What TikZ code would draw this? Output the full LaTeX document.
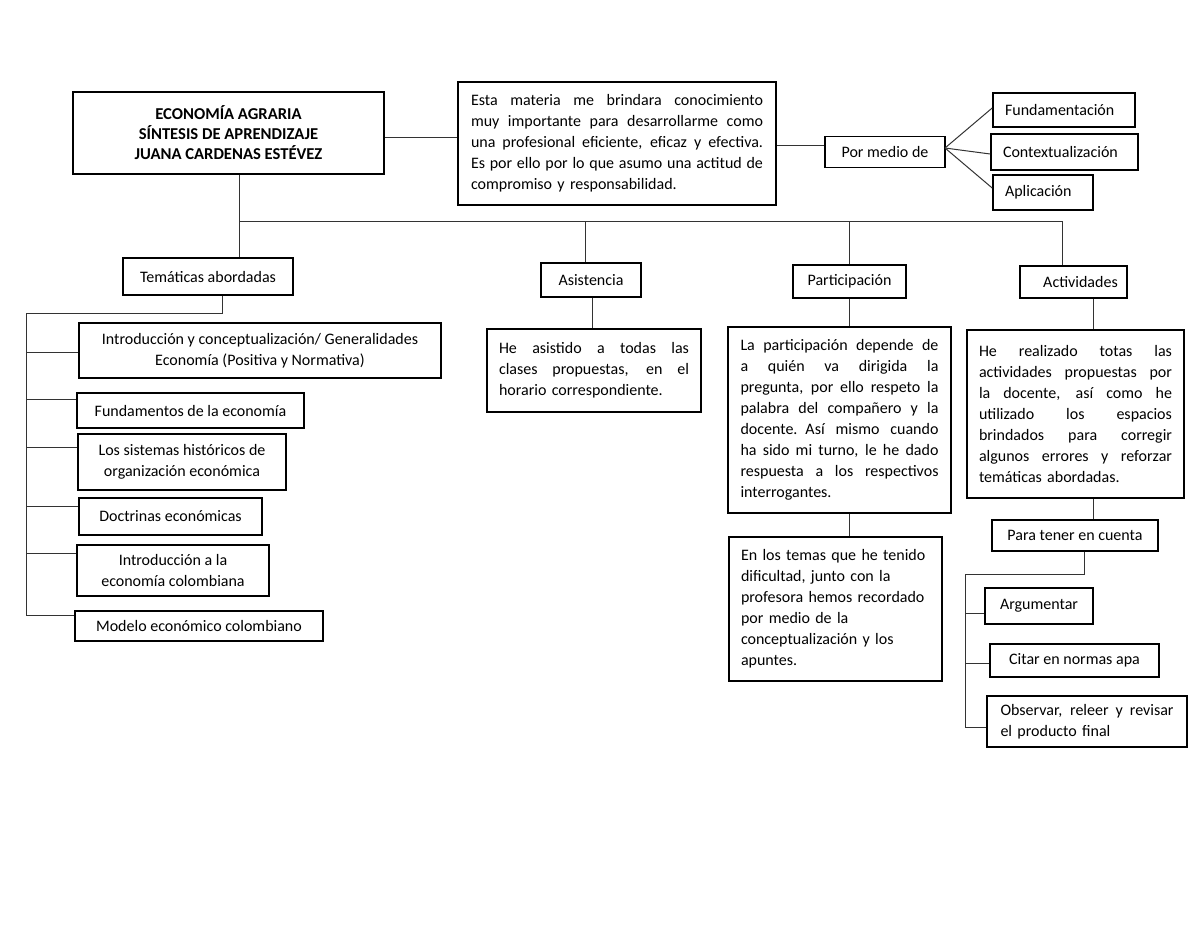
\documentclass[tikz,border=0pt]{standalone}
\usepackage{fontspec}
\setmainfont{Carlito}
\newcommand{\jl}[2]{\makebox[#1][s]{\spaceskip=\fontdimen2\font plus 1fil minus 0.08em\relax #2}}
\begin{document}
\begin{tikzpicture}[x=1pt,y=-1pt,
  box/.style={draw=black, line width=1.6pt, inner sep=0pt, align=center,
    font=\fontsize{16}{21}\selectfont},
  conn/.style={draw=black!80, line width=1pt}]
\fill[white] (0,0) rectangle (1200,927);
\useasboundingbox (0,0) rectangle (1200,927);

% top row
\node[box, minimum width=311pt, minimum height=82pt, font=\bfseries\fontsize{16.6}{20}\selectfont] (title) at (228.5,133)
  {ECONOMÍA AGRARIA\\SÍNTESIS DE APRENDIZAJE\\JUANA CARDENAS ESTÉVEZ};
\node[box, minimum width=318pt, minimum height=123pt, text width=292pt, align=left] (esta) at (617,143.5)
  {\jl{292pt}{Esta materia me brindara conocimiento}\\
   \jl{292pt}{muy importante para desarrollarme como}\\
   \jl{292pt}{una profesional eficiente, eficaz y efectiva.}\\
   \jl{292pt}{Es por ello por lo que asumo una actitud de}\\
   compromiso y responsabilidad.};
\node[box, minimum width=120pt, minimum height=31pt] (pormedio) at (885,152) {Por medio de};
\node[box, minimum width=142pt, minimum height=34pt, text width=118pt, align=left] (fund) at (1064,110) {Fundamentación};
\node[box, minimum width=147pt, minimum height=36pt, text width=123pt, align=left] (context) at (1064.5,152) {Contextualización};
\node[box, minimum width=100pt, minimum height=35pt, text width=76pt, align=left] (aplic) at (1043,192.5) {Aplicación};

% second row
\node[box, minimum width=170pt, minimum height=37pt] (tem) at (208,276.5) {Temáticas abordadas};
\node[box, minimum width=100pt, minimum height=34pt] (asis) at (591,280) {Asistencia};
\node[box, minimum width=113pt, minimum height=33pt] (part) at (849.5,281.5) {Participación};
\node[box, minimum width=107pt, minimum height=32pt] (act) at (1073.5,282) {\hspace*{14pt}Actividades};

% middle column texts
\node[box, minimum width=214pt, minimum height=83pt, text width=190pt, align=left] (asist) at (594,370.5)
  {\jl{190pt}{He asistido a todas las}\\
   \jl{190pt}{clases propuestas, en el}\\
   horario correspondiente.};
\node[box, minimum width=223pt, minimum height=186pt, text width=198pt, align=left] (lapart) at (839.5,420)
  {\jl{198pt}{La participación depende de}\\
   \jl{198pt}{a quién va dirigida la}\\
   \jl{198pt}{pregunta, por ello respeto la}\\
   \jl{198pt}{palabra del compañero y la}\\
   \jl{198pt}{docente. Así mismo cuando}\\
   \jl{198pt}{ha sido mi turno, le he dado}\\
   \jl{198pt}{respuesta a los respectivos}\\
   interrogantes.};
\node[box, minimum width=213pt, minimum height=144pt, text width=189pt, align=left] (enlos) at (835.5,609)
  {En los temas que he tenido\\
   dificultad, junto con la\\
   profesora hemos recordado\\
   por medio de la\\
   conceptualización y los\\
   apuntes.};

% right column
\node[box, minimum width=217pt, minimum height=168pt, text width=193pt, align=left] (real) at (1075.5,414)
  {\jl{193pt}{He realizado totas las}\\
   \jl{193pt}{actividades propuestas por}\\
   \jl{193pt}{la docente, así como he}\\
   \jl{193pt}{utilizado los espacios}\\
   \jl{193pt}{brindados para corregir}\\
   \jl{193pt}{algunos errores y reforzar}\\
   temáticas abordadas.};
\node[box, minimum width=166pt, minimum height=31pt] (para) at (1075,535.5) {Para tener en cuenta};
\node[box, minimum width=108pt, minimum height=36pt] (arg) at (1039,606) {Argumentar};
\node[box, minimum width=169pt, minimum height=33pt] (citar) at (1074.5,660.5) {Citar en normas apa};
\node[box, minimum width=200pt, minimum height=51pt, text width=173pt, align=left] (obs) at (1087,721.5)
  {\jl{173pt}{Observar, releer y revisar}\\ el producto final};

% left column
\node[box, minimum width=362pt, minimum height=55pt] (l1) at (260,350.5)
  {Introducción y conceptualización/ Generalidades\\ Economía (Positiva y Normativa)};
\node[box, minimum width=227pt, minimum height=35pt] (l2) at (190.5,410.5) {Fundamentos de la economía};
\node[box, minimum width=208pt, minimum height=56pt] (l3) at (182,462) {Los sistemas históricos de\\ organización económica};
\node[box, minimum width=183pt, minimum height=37pt] (l4) at (170.5,516.5) {Doctrinas económicas};
\node[box, minimum width=192pt, minimum height=51pt] (l5) at (173,570.5) {Introducción a la\\ economía colombiana};
\node[box, minimum width=248pt, minimum height=30pt] (l6) at (199,626) {Modelo económico colombiano};

% junction coordinates
\coordinate (busL) at (239,221);
\coordinate (busR) at (1062,221);
\coordinate (fan) at (945,148);
\coordinate (ltop) at (222,313);
\coordinate (lcorner) at (26,313);
\coordinate (lend) at (26,615);
\coordinate (rtop) at (1084,574);
\coordinate (rcorner) at (965,574);
\coordinate (rend) at (965,727);

% connectors top
\draw[conn] (title.east |- 0,137) -- (esta.west |- 0,137);
\draw[conn] (esta.east |- 0,145) -- (pormedio.west |- 0,145);
\draw[conn] (fan) -- (fund.west |- 0,108);
\draw[conn] (fan) -- (context.west |- 0,154);
\draw[conn] (fan) -- (aplic.west |- 0,188);
\draw[conn] (title.south -| busL) -- (tem.north -| busL);
\draw[conn] (busL) -- (busR) -- (act.north -| busR);
\draw[conn] (busL -| 585,0) -- (asis.north -| 585,0);
\draw[conn] (busL -| part.north) -- (part.north);

% connectors middle
\draw[conn] (asis.south -| 592,0) -- (asist.north -| 592,0);
\draw[conn] (part.south -| 849,0) -- (lapart.north -| 849,0);
\draw[conn] (lapart.south -| 849,0) -- (enlos.north -| 849,0);

% connectors right
\draw[conn] (act.south -| 1093,0) -- (real.north -| 1093,0);
\draw[conn] (real.south -| 1093,0) -- (para.north -| 1093,0);
\draw[conn] (para.south -| rtop) -- (rtop) -- (rcorner) -- (rend);
\draw[conn] (rcorner |- 0,613) -- (arg.west |- 0,613);
\draw[conn] (rcorner |- 0,663) -- (citar.west |- 0,663);
\draw[conn] (rend) -- (obs.west |- rend);

% connectors left
\draw[conn] (tem.south -| ltop) -- (ltop) -- (lcorner) -- (lend);
\draw[conn] (lcorner |- 0,352) -- (l1.west |- 0,352);
\draw[conn] (lcorner |- 0,399) -- (l2.west |- 0,399);
\draw[conn] (lcorner |- 0,447) -- (l3.west |- 0,447);
\draw[conn] (lcorner |- 0,506) -- (l4.west |- 0,506);
\draw[conn] (lcorner |- 0,553) -- (l5.west |- 0,553);
\draw[conn] (lend) -- (l6.west |- lend);
\end{tikzpicture}
\end{document}
